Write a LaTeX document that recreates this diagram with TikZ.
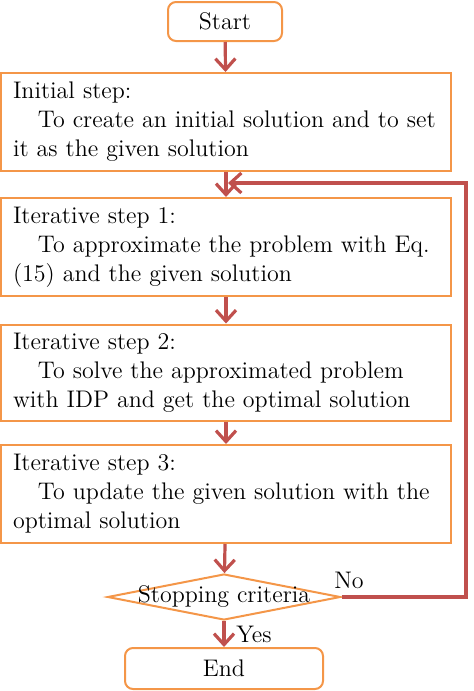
\documentclass[tikz,border=0pt]{standalone}
\usetikzlibrary{arrows.meta,shapes.geometric}
\definecolor{boxorange}{RGB}{244,150,72}
\definecolor{arrowred}{RGB}{192,80,77}

\begin{document}
\begin{tikzpicture}[x=0.5pt,y=-0.5pt,font=\fontsize{12}{14.5}\selectfont]
		\useasboundingbox (0,0) rectangle (474,691);
		\tikzset{stepbox/.style={text width=213pt,inner xsep=6pt,align=left,minimum height=49pt}}
		\begin{scope}[every node/.style={draw=boxorange,line width=1pt,fill=white}]
			\node[rounded corners=4pt,minimum width=57pt,minimum height=19.5pt] (start) at (225,21.5) {Start};
			\node[stepbox] (init) at (226,122) {Initial step:\\\hspace*{12.5pt}To create an initial solution and to set\\it as the given solution};
			\node[stepbox] (iter1) at (226,247) {Iterative step 1:\\\hspace*{12.5pt}To approximate the problem with Eq.\\(15) and the given solution};
			\node[stepbox,minimum height=48pt] (iter2) at (226,372.5) {Iterative step 2:\\\hspace*{12.5pt}To solve the approximated problem\\with IDP and get the optimal solution};
			\node[stepbox] (iter3) at (226,494) {Iterative step 3:\\\hspace*{12.5pt}To update the given solution with the\\optimal solution};
			\node[diamond,minimum width=116.5pt,minimum height=23pt,inner sep=0pt] (stop) at (224,597) {\makebox[0pt]{\raisebox{-1.5pt}{Stopping criteria}}};
			\node[rounded corners=4pt,minimum width=99pt,minimum height=20.5pt] (end) at (224,668.5) {End};
		\end{scope}
		\coordinate (back) at (466,183);
		\coordinate (loop) at (228,183);
		\begin{scope}[>={Straight Barb[length=5.5pt,width=10pt]},
			every edge/.style={draw=arrowred,line width=1.6pt}]
			\path [->] (start) edge (init);
			\path [->] (init) edge (iter1);
			\path [->] (iter1) edge (iter2);
			\path [->] (iter2) edge (iter3);
			\path [->] (iter3) edge (stop);
			\path [->] (stop) edge node[right,xshift=2pt] {Yes} (end);
			\draw [->,draw=arrowred,line width=1.6pt] (stop.east) -| node[pos=0.03,above] {No} (back) -- (loop);
		\end{scope}
	\end{tikzpicture}
\end{document}
